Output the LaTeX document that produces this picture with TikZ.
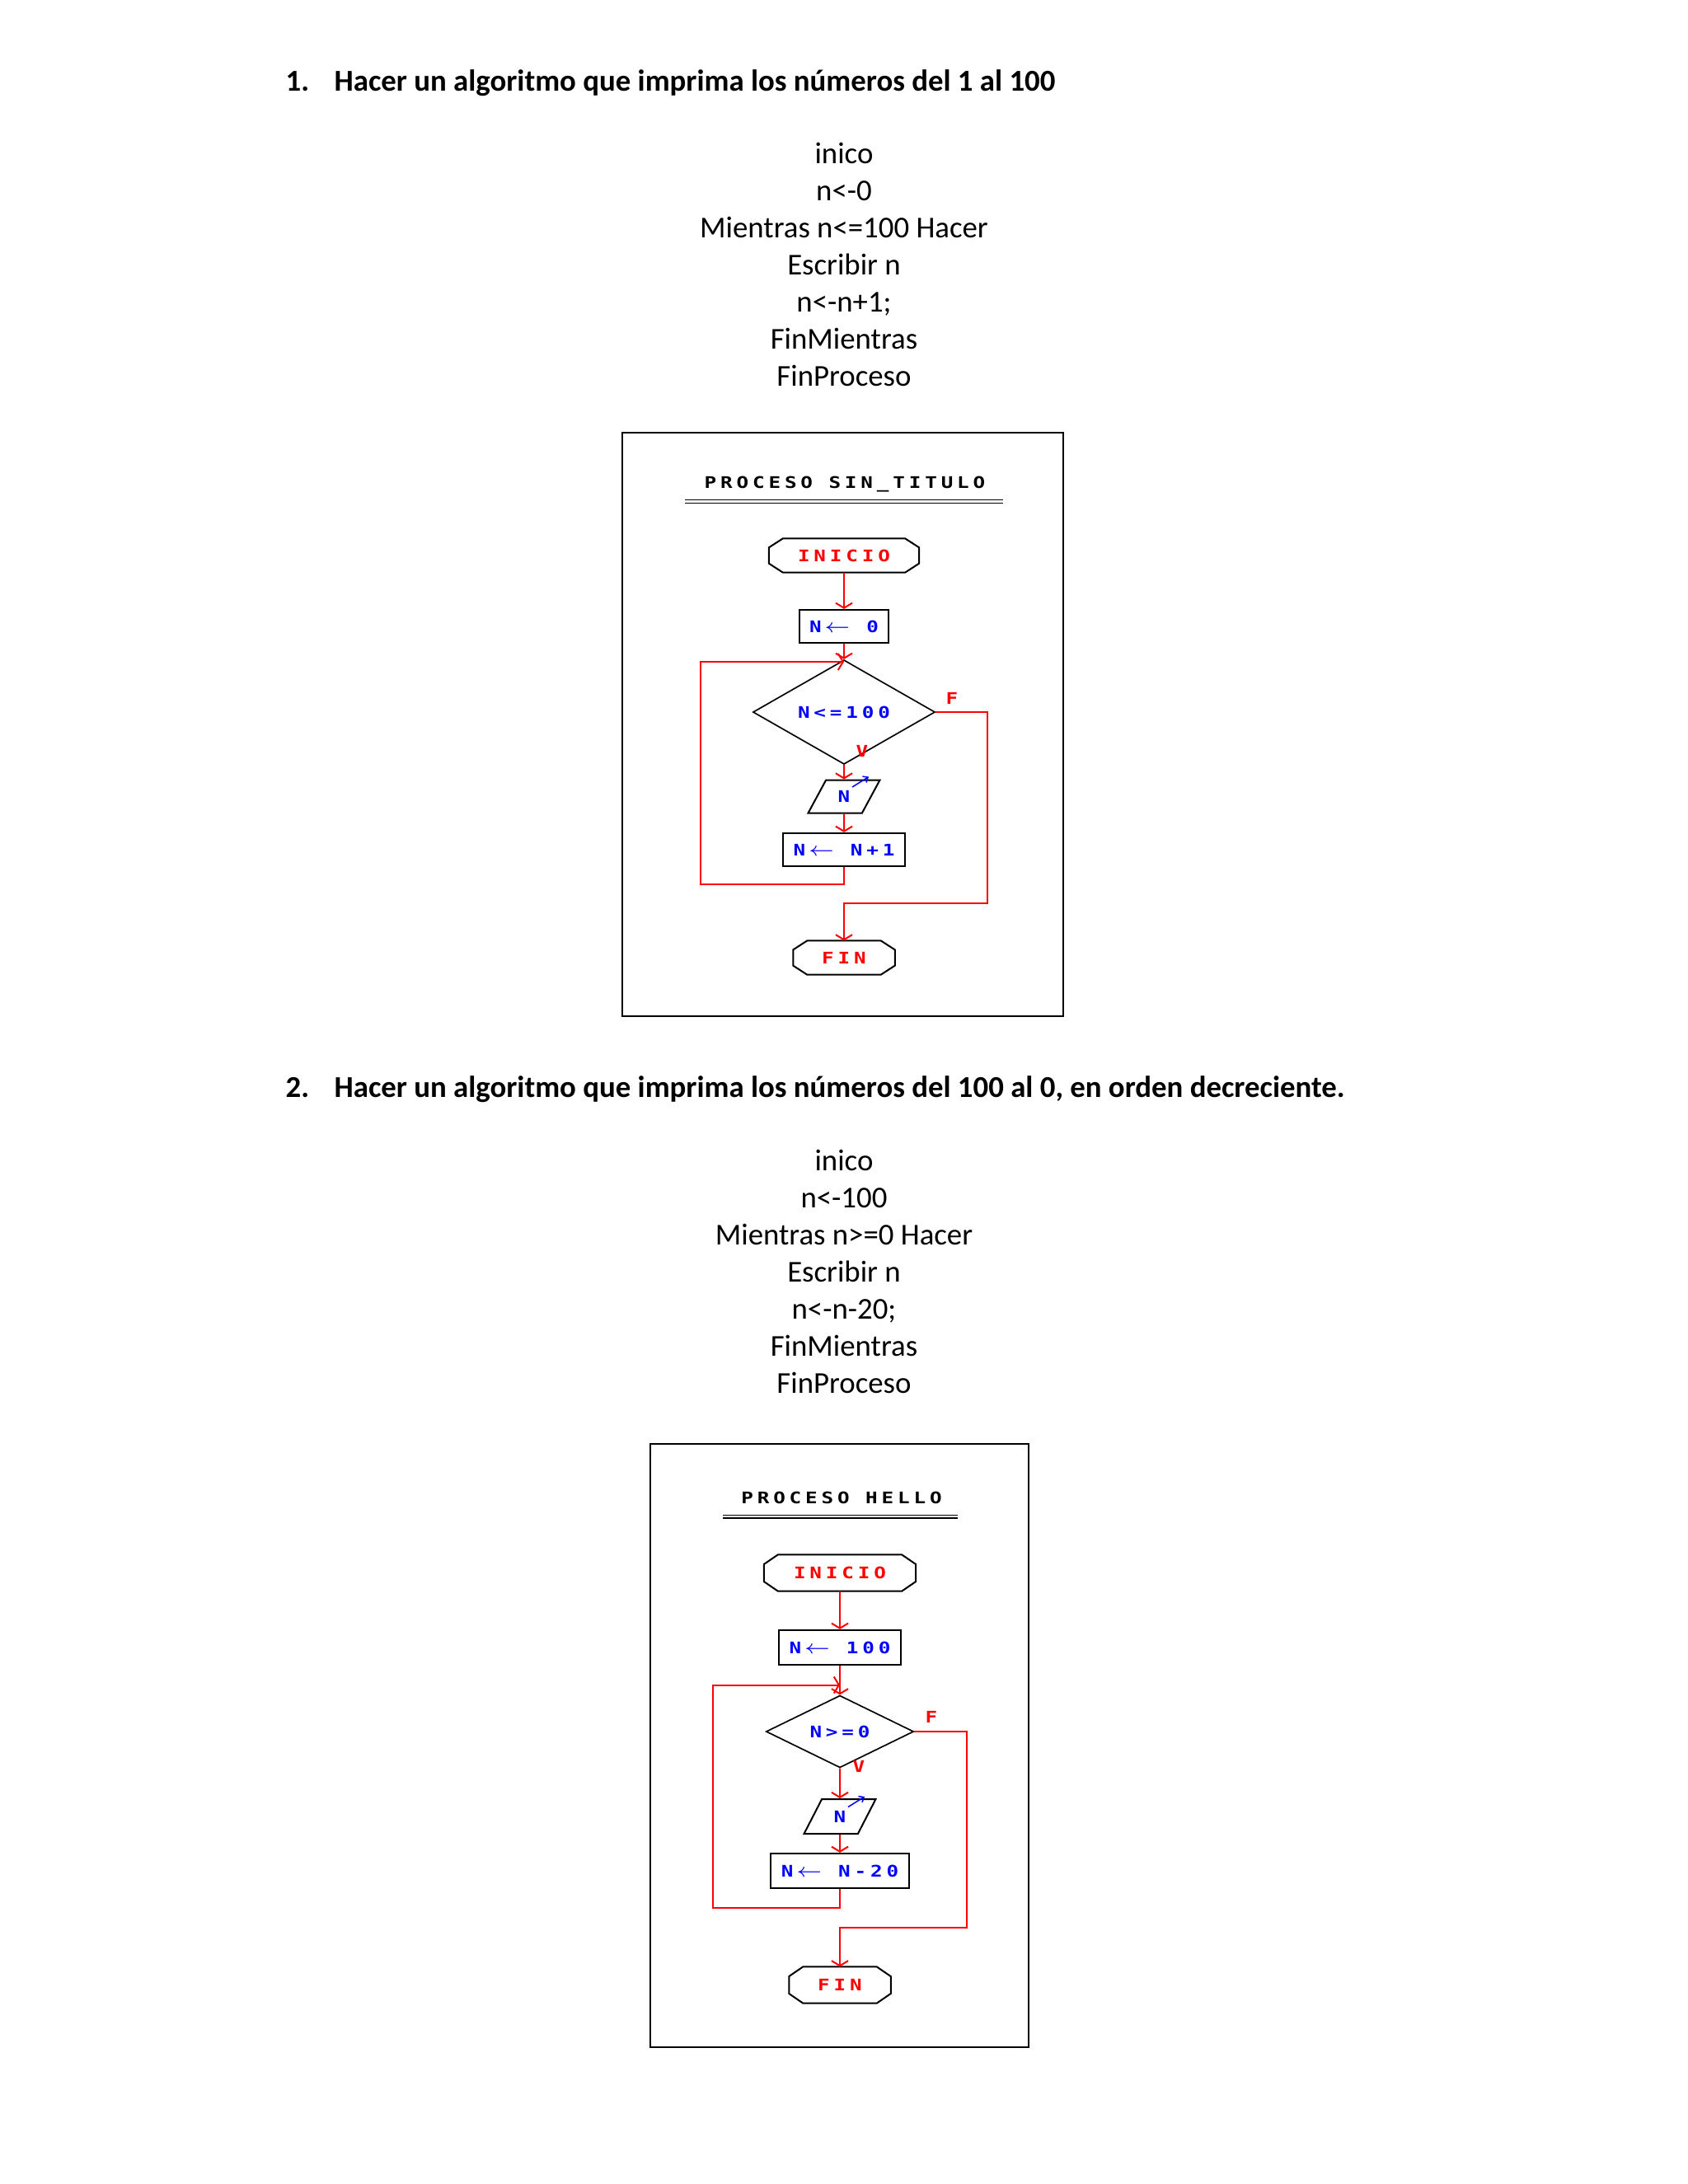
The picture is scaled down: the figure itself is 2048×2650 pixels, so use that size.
\documentclass[tikz,border=0pt]{standalone}
\usepackage{fontspec}
\setmainfont{Carlito}
\newfontfamily\pixfont[FakeStretch=1.25,LetterSpace=25]{DejaVu Sans Mono}
\usetikzlibrary{arrows.meta,positioning,shapes.geometric}
\definecolor{psred}{RGB}{255,0,0}
\definecolor{psblue}{RGB}{0,0,255}
\newcommand{\asigna}{\hspace{1pt}\scalebox{1.3}[1.15]{$\leftarrow$}}
% octogono de inicio/fin: nodo, corte x, corte y
\newcommand{\octo}[3]{\draw[termline] ([xshift=#2]#1.north west) -- ([xshift=-#2]#1.north east)
  -- ([yshift=-#3]#1.north east) -- ([yshift=#3]#1.south east) -- ([xshift=-#2]#1.south east)
  -- ([xshift=#2]#1.south west) -- ([yshift=#3]#1.south west) -- ([yshift=-#3]#1.north west) -- cycle;}
\tikzset{
  num/.style={anchor=base west,inner sep=0pt,font=\fontsize{11}{13}\selectfont\bfseries},
  code/.style={anchor=base,inner sep=0pt,font=\fontsize{11}{13}\selectfont},
  pstext/.style={font=\pixfont\fontsize{5.8}{6}\selectfont\bfseries},
  frame/.style={draw=black,line width=0.7pt},
  uline/.style={draw=black,line width=0.5pt},
  title/.style={pstext,inner sep=0pt},
  term/.style={rectangle,text=psred,pstext,inner sep=0pt},
  termline/.style={draw=black,line width=0.6pt},
  asig/.style={rectangle,draw=black,line width=0.7pt,text=psblue,pstext,inner sep=0pt},
  cond/.style={diamond,draw=black,line width=0.5pt,text=psblue,pstext,inner sep=0pt},
  salida/.style={trapezium,trapezium left angle=63,trapezium right angle=117,trapezium stretches=true,
    draw=black,line width=0.6pt,text=psblue,pstext,inner sep=0pt,minimum width=26pt},
  lbl/.style={text=psred,pstext,inner sep=0pt},
  flow/.style={draw=psred,line width=0.6pt,-{Straight Barb[length=1.8pt,width=6pt]}},
  outarrow/.style={draw=psblue,line width=0.45pt,-{Straight Barb[length=1.5pt,width=2.6pt]}}
}
\begin{document}
\begin{tikzpicture}[x=0.2988pt,y=-0.2988pt]
  \path[use as bounding box,fill=white] (0,0) rectangle (2048,2650);
  % Ejercicio 1
  \node[num] (n1) at (346,110) {1.};
  \node[num] (h1) at (405,110) {Hacer un algoritmo que imprima los números del 1 al 100};
  \foreach \t [count=\i] in {inico,n<-0,Mientras n<=100 Hacer,Escribir n,n<-n+1;,FinMientras,FinProceso}
    \node[code] (p1-\i) at (1024,153+45*\i) {\t};
  % Diagrama 1
  \draw[frame] (755,525) rectangle (1290,1233);
  \node[title] (t1) at (1025,588) {PROCESO SIN\_TITULO};
  \draw[uline] (831,606.5) -- (1217,606.5) (831,610.6) -- (1217,610.6);
  \node[term,minimum width=54.1pt,minimum height=11.95pt] (ini1) at (1024,674) {INICIO};
  \octo{ini1}{5.1pt}{3.3pt}
  \node[asig,minimum width=32.3pt,minimum height=11.95pt] (asg1) at (1024,760) {N\asigna{} 0};
  \node[cond,minimum width=66pt,minimum height=22.7pt] (cond1) at (1024,864) {N<=100};
  \node[salida,minimum height=11.95pt] (out1) at (1024,966.5) {N};
  \node[asig,minimum width=44.2pt,minimum height=11.95pt] (inc1) at (1024,1031) {N\asigna{} N+1};
  \node[term,minimum width=36.5pt,minimum height=11.95pt] (fin1) at (1024,1162) {FIN};
  \octo{fin1}{5.1pt}{3.3pt}
  \node[lbl] (f1) at (1155,847) {F};
  \node[lbl] (v1) at (1046,911) {V};
  \coordinate (j1) at (1024,803);
  \coordinate (lb1) at (850,1073);
  \coordinate (fr1) at (1198,1096);
  \draw[flow] (ini1) -- (asg1);
  \draw[flow] (asg1) -- (cond1);
  \draw[flow] (cond1) -- (out1);
  \draw[flow] (out1) -- (inc1);
  \draw[flow] (inc1.south) |- (lb1) |- (j1);
  \draw[flow] (cond1.east) -| (fr1) -| (fin1.north);
  \draw[outarrow] (out1.center) ++(10,-11.5) -- ++(20,-12.5);
  % Ejercicio 2
  \node[num] (n2) at (346,1331.7) {2.};
  \node[num] (h2) at (405,1331.7) {Hacer un algoritmo que imprima los números del 100 al 0, en orden decreciente.};
  \foreach \t [count=\i] in {inico,n<-100,Mientras n>=0 Hacer,Escribir n,n<-n-20;,FinMientras,FinProceso}
    \node[code] (p2-\i) at (1024,1375+45*\i) {\t};
  % Diagrama 2
  \draw[frame] (789,1752) rectangle (1248,2484);
  \node[title] (t2) at (1021,1817) {PROCESO HELLO};
  \draw[uline] (877,1838.4) -- (1162,1838.4) (877,1841.8) -- (1162,1841.8);
  \node[term,minimum width=54.7pt,minimum height=12.85pt] (ini2) at (1019,1908.5) {INICIO};
  \octo{ini2}{5.1pt}{3.5pt}
  \node[asig,minimum width=44.2pt,minimum height=12.55pt] (asg2) at (1019,1999) {N\asigna{} 100};
  \node[cond,minimum width=53.5pt,minimum height=19.7pt] (cond2) at (1019,2101) {N>=0};
  \node[salida,minimum height=12.55pt] (out2) at (1019,2204) {N};
  \node[asig,minimum width=50.2pt,minimum height=12.55pt] (inc2) at (1019,2270) {N\asigna{} N-20};
  \node[term,minimum width=36.5pt,minimum height=12.85pt] (fin2) at (1019,2408.5) {FIN};
  \octo{fin2}{5.1pt}{3.5pt}
  \node[lbl] (f2) at (1130,2083) {F};
  \node[lbl] (v2) at (1042,2143) {V};
  \coordinate (j2) at (1019,2044.5);
  \coordinate (lb2) at (864.6,2315);
  \coordinate (fr2) at (1173,2339);
  \draw[flow] (ini2) -- (asg2);
  \draw[flow] (asg2) -- (cond2);
  \draw[flow] (cond2) -- (out2);
  \draw[flow] (out2) -- (inc2);
  \draw[flow] (inc2.south) |- (lb2) |- (j2);
  \draw[flow] (cond2.east) -| (fr2) -| (fin2.north);
  \draw[outarrow] (out2.center) ++(10,-11.5) -- ++(20,-12.5);
\end{tikzpicture}
\end{document}
